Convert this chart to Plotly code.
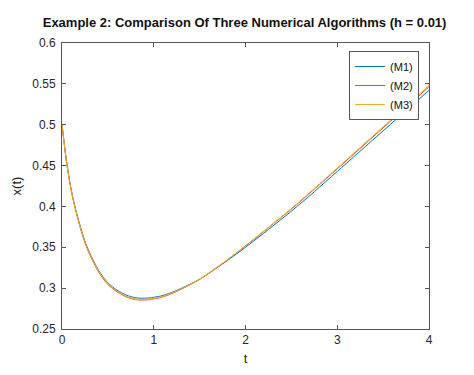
import plotly.graph_objects as go

t = [0, 0.05, 0.1, 0.15, 0.2, 0.25, 0.3, 0.4, 0.5, 0.6, 0.7, 0.8, 0.9, 1.0,
     1.1, 1.25, 1.5, 1.75, 2.0, 2.25, 2.5, 2.75, 3.0, 3.5, 4.0]

m1 = [0.500, 0.455, 0.421, 0.396, 0.3755, 0.3575, 0.3435, 0.3215, 0.3065, 0.2975,
      0.2915, 0.2883, 0.2876, 0.2888, 0.2910, 0.2972, 0.3110, 0.3297, 0.3500,
      0.3718, 0.3942, 0.4180, 0.4428, 0.4925, 0.5420]
m2 = [0.500, 0.4535, 0.4195, 0.3945, 0.3735, 0.3555, 0.3415, 0.3195, 0.3045, 0.2955,
      0.2893, 0.2860, 0.2854, 0.2868, 0.2893, 0.2960, 0.3107, 0.3302, 0.3515,
      0.3740, 0.3968, 0.4212, 0.4460, 0.4962, 0.5465]
m3 = [0.500, 0.454, 0.420, 0.395, 0.3745, 0.3565, 0.3425, 0.3205, 0.3055, 0.2963,
      0.2902, 0.2869, 0.2862, 0.2876, 0.2900, 0.2965, 0.3110, 0.3305, 0.3520,
      0.3745, 0.3975, 0.4220, 0.4470, 0.4975, 0.5480]

names = ["(M1)", "(M2)", "(M3)"]
colors = ["#0072BD", "#D95319", "#EDB120"]

ytick_vals = [0.25, 0.3, 0.35, 0.4, 0.45, 0.5, 0.55, 0.6]
ytick_text = ["0.25", "0.3", "0.35", "0.4", "0.45", "0.5", "0.55", "0.6"]
xtick_vals = [0, 1, 2, 3, 4]

FONT = "Liberation Sans, Arial, Helvetica"

fig = go.Figure()
for y, n, c in zip([m1, m2, m3], names, colors):
    fig.add_trace(go.Scatter(x=t, y=y, mode="lines", name=n,
                             line=dict(color=c, width=1, shape="spline", smoothing=0.8)))

axis_common = dict(showline=True, linecolor="#555", linewidth=1, mirror="ticks",
                   ticks="inside", ticklen=4, tickcolor="#555", showgrid=False,
                   zeroline=False, automargin=False,
                   tickfont=dict(family=FONT, size=12, color="#262626"))

fig.update_layout(
    width=474, height=375,
    margin=dict(l=62, r=45, t=43, b=46, autoexpand=False),
    paper_bgcolor="white", plot_bgcolor="white",
    title=dict(text="<b>Example 2: Comparison Of Three Numerical Algorithms (h = 0.01)</b>",
               x=0.516, xanchor="center", xref="container",
               y=0.941, yanchor="middle", yref="container", automargin=False,
               font=dict(family=FONT, size=13, color="#111")),
    xaxis=dict(range=[0, 4], tickvals=xtick_vals,
               title=dict(text="t", font=dict(family=FONT, size=13, color="#262626"), standoff=7),
               **axis_common),
    yaxis=dict(range=[0.25, 0.6], tickvals=ytick_vals, ticktext=ytick_text,
               ticklabelstandoff=3,
               title=dict(text="x(t)", font=dict(family=FONT, size=13, color="#262626"), standoff=7),
               **axis_common),
    legend=dict(x=0.973, y=0.972, xanchor="right", yanchor="top",
                bordercolor="#555", borderwidth=1, bgcolor="white",
                font=dict(family=FONT, size=11, color="#111"),
                tracegroupgap=0, itemwidth=30),
    showlegend=True,
)

fig.write_html("out.html", config={"displayModeBar": False},
               post_script="document.body.style.margin='0';document.body.style.padding='0';")
